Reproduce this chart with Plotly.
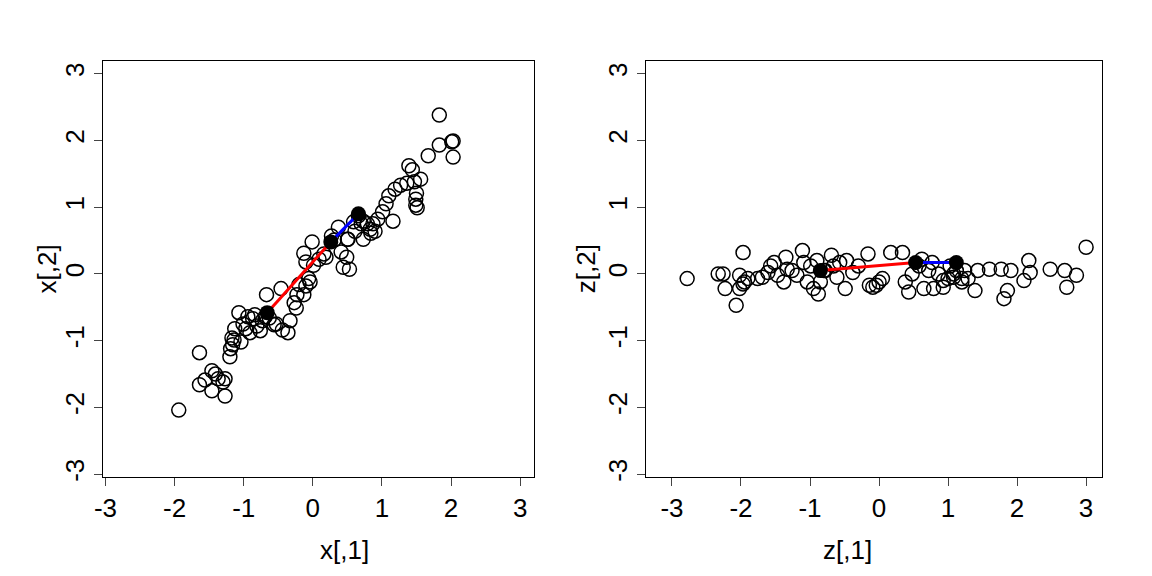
import plotly.graph_objects as go

x1 = [-1.94,-1.64,-1.64,-1.56,-1.46,-1.41,-1.37,-1.30,-1.27,-1.46,-1.27,-1.17,-1.20,-1.19,-1.16,-1.14,-1.13,-1.07,-1.04,-1.01,-0.97,-0.94,-0.91,-0.87,-0.84,-0.81,-0.76,-0.73,-0.69,-0.67,-0.63,-0.56,-0.53,-0.44,-0.36,-0.33,-0.27,-0.24,-0.23,-0.46,-0.20,-0.13,-0.10,-0.06,-0.04,0.01,-0.10,-0.01,-0.13,0.09,0.16,0.19,0.27,0.37,0.41,0.31,0.44,0.49,0.50,0.51,0.53,0.59,0.61,0.66,0.70,0.73,0.73,0.79,0.83,0.84,0.87,0.90,0.94,1.01,1.06,1.10,1.16,1.19,1.27,1.36,1.39,1.44,1.47,1.49,1.50,1.49,1.51,1.56,1.67,1.83,1.83,2.01,2.03,2.03]
x2 = [-2.04,-1.18,-1.66,-1.59,-1.45,-1.50,-1.57,-1.62,-1.57,-1.75,-1.83,-0.96,-1.24,-1.12,-1.06,-0.99,-0.82,-0.58,-1.02,-0.75,-0.82,-0.64,-0.88,-0.67,-0.61,-0.78,-0.85,-0.70,-0.64,-0.31,-0.66,-0.76,-0.75,-0.84,-0.88,-0.70,-0.43,-0.51,-0.31,-0.22,-0.16,-0.31,-0.18,-0.07,-0.12,0.13,0.18,0.48,0.31,0.22,0.30,0.25,0.57,0.70,0.33,0.51,0.10,0.25,0.52,0.52,0.07,0.78,0.64,0.87,0.75,0.79,0.52,0.75,0.67,0.61,0.75,0.64,0.82,0.93,1.05,1.17,0.79,1.27,1.33,1.36,1.62,1.56,1.38,1.03,1.21,1.12,0.99,1.42,1.77,1.93,2.38,1.98,1.75,1.99]
sel_x = [-0.66, 0.26, 0.66]
sel_y = [-0.58, 0.48, 0.90]

z1 = [-2.78,-2.33,-2.26,-2.23,-2.07,-2.02,-1.97,-1.95,-1.90,-1.76,-1.69,-1.61,-1.57,-1.52,-1.47,-1.38,-1.35,-1.33,-1.26,-1.19,-1.11,-1.09,-1.04,-0.99,-0.95,-0.90,-0.88,-0.85,-0.80,-0.78,-0.69,-0.66,-0.61,-0.57,-0.49,-0.47,-0.38,-0.30,-0.16,-0.14,-0.09,-0.04,0.00,0.05,0.17,0.34,0.38,0.43,0.48,0.58,0.62,0.65,0.72,0.77,0.79,0.86,0.93,1.00,1.03,1.08,1.12,1.20,1.24,1.29,1.39,1.43,1.60,1.77,1.81,1.86,1.91,2.10,2.17,2.19,2.48,2.69,2.72,2.86,3.00,-2.02,-1.97,0.93,1.08,1.20]
z2 = [-0.07,0.00,0.00,-0.22,-0.47,-0.02,0.32,-0.12,-0.07,-0.07,-0.05,0.02,0.12,0.17,-0.02,-0.12,0.25,0.07,0.05,-0.02,0.35,0.17,-0.12,0.12,-0.22,0.20,-0.30,-0.12,0.05,0.05,0.28,0.12,-0.05,0.17,-0.22,0.20,0.02,0.12,0.30,-0.17,-0.20,-0.17,-0.12,-0.07,0.32,0.32,-0.12,-0.27,0.00,0.12,0.22,-0.22,0.05,0.17,-0.22,0.00,-0.20,-0.07,0.12,0.00,0.05,-0.07,0.05,-0.07,-0.25,0.05,0.07,0.07,-0.37,-0.25,0.05,-0.10,0.20,0.02,0.07,0.05,-0.20,-0.02,0.40,-0.22,-0.15,-0.10,-0.05,-0.12]
sel_z1 = [-0.85, 0.53, 1.12]
sel_z2 = [0.05, 0.17, 0.17]

ticks = [-3, -2, -1, 0, 1, 2, 3]
tick_text = ["-3", "-2", "-1", "0", "1", "2", "3"]

FONT = "Liberation Sans, Arial, sans-serif"
fig = go.Figure()

def panel(xs, ys, sx, sy, xa, ya):
    fig.add_trace(go.Scatter(x=xs, y=ys, mode="markers", xaxis=xa, yaxis=ya,
                             marker=dict(symbol="circle-open", size=14, color="black", line=dict(width=1.5))))
    fig.add_trace(go.Scatter(x=sx[:2], y=sy[:2], mode="lines", xaxis=xa, yaxis=ya,
                             line=dict(color="red", width=3)))
    fig.add_trace(go.Scatter(x=sx[1:], y=sy[1:], mode="lines", xaxis=xa, yaxis=ya,
                             line=dict(color="blue", width=3)))
    fig.add_trace(go.Scatter(x=sx, y=sy, mode="markers", xaxis=xa, yaxis=ya,
                             marker=dict(symbol="circle", size=15, color="black")))

panel(x1, x2, sel_x, sel_y, "x", "y")
panel(z1, z2, sel_z1, sel_z2, "x2", "y2")

ax = dict(tickvals=ticks, ticktext=tick_text, ticks="outside", ticklen=8, tickwidth=1,
          showline=True, linecolor="black", linewidth=1, mirror=True, showgrid=False,
          zeroline=False, tickfont=dict(size=26, color="black", family=FONT))
fig.update_layout(
    autosize=True, margin=dict(l=0, r=0, t=0, b=0, autoexpand=False),
    paper_bgcolor="white", plot_bgcolor="white", showlegend=False,
    font=dict(family=FONT, color="black", size=26),
    xaxis=dict(ax, domain=[0.084, 0.463], range=[-3.03, 3.2], anchor="y"),
    yaxis=dict(ax, domain=[0.186, 0.908], range=[-3.04, 3.19], anchor="x", tickangle=-90),
    xaxis2=dict(ax, domain=[0.562, 0.963], range=[-3.37, 3.23], anchor="y2"),
    yaxis2=dict(ax, domain=[0.186, 0.908], range=[-3.04, 3.19], anchor="x2", tickangle=-90),
    annotations=[
        dict(text="x[,1]", x=0.273, y=0.03, xref="paper", yref="paper", showarrow=False),
        dict(text="x[,2]", x=0.019, y=0.547, xref="paper", yref="paper", showarrow=False, textangle=-90),
        dict(text="z[,1]", x=0.7625, y=0.03, xref="paper", yref="paper", showarrow=False),
        dict(text="z[,2]", x=0.509, y=0.547, xref="paper", yref="paper", showarrow=False, textangle=-90),
    ],
)
fig.write_html("out.html", config={"responsive": True}, default_width="100%", default_height="100vh")
